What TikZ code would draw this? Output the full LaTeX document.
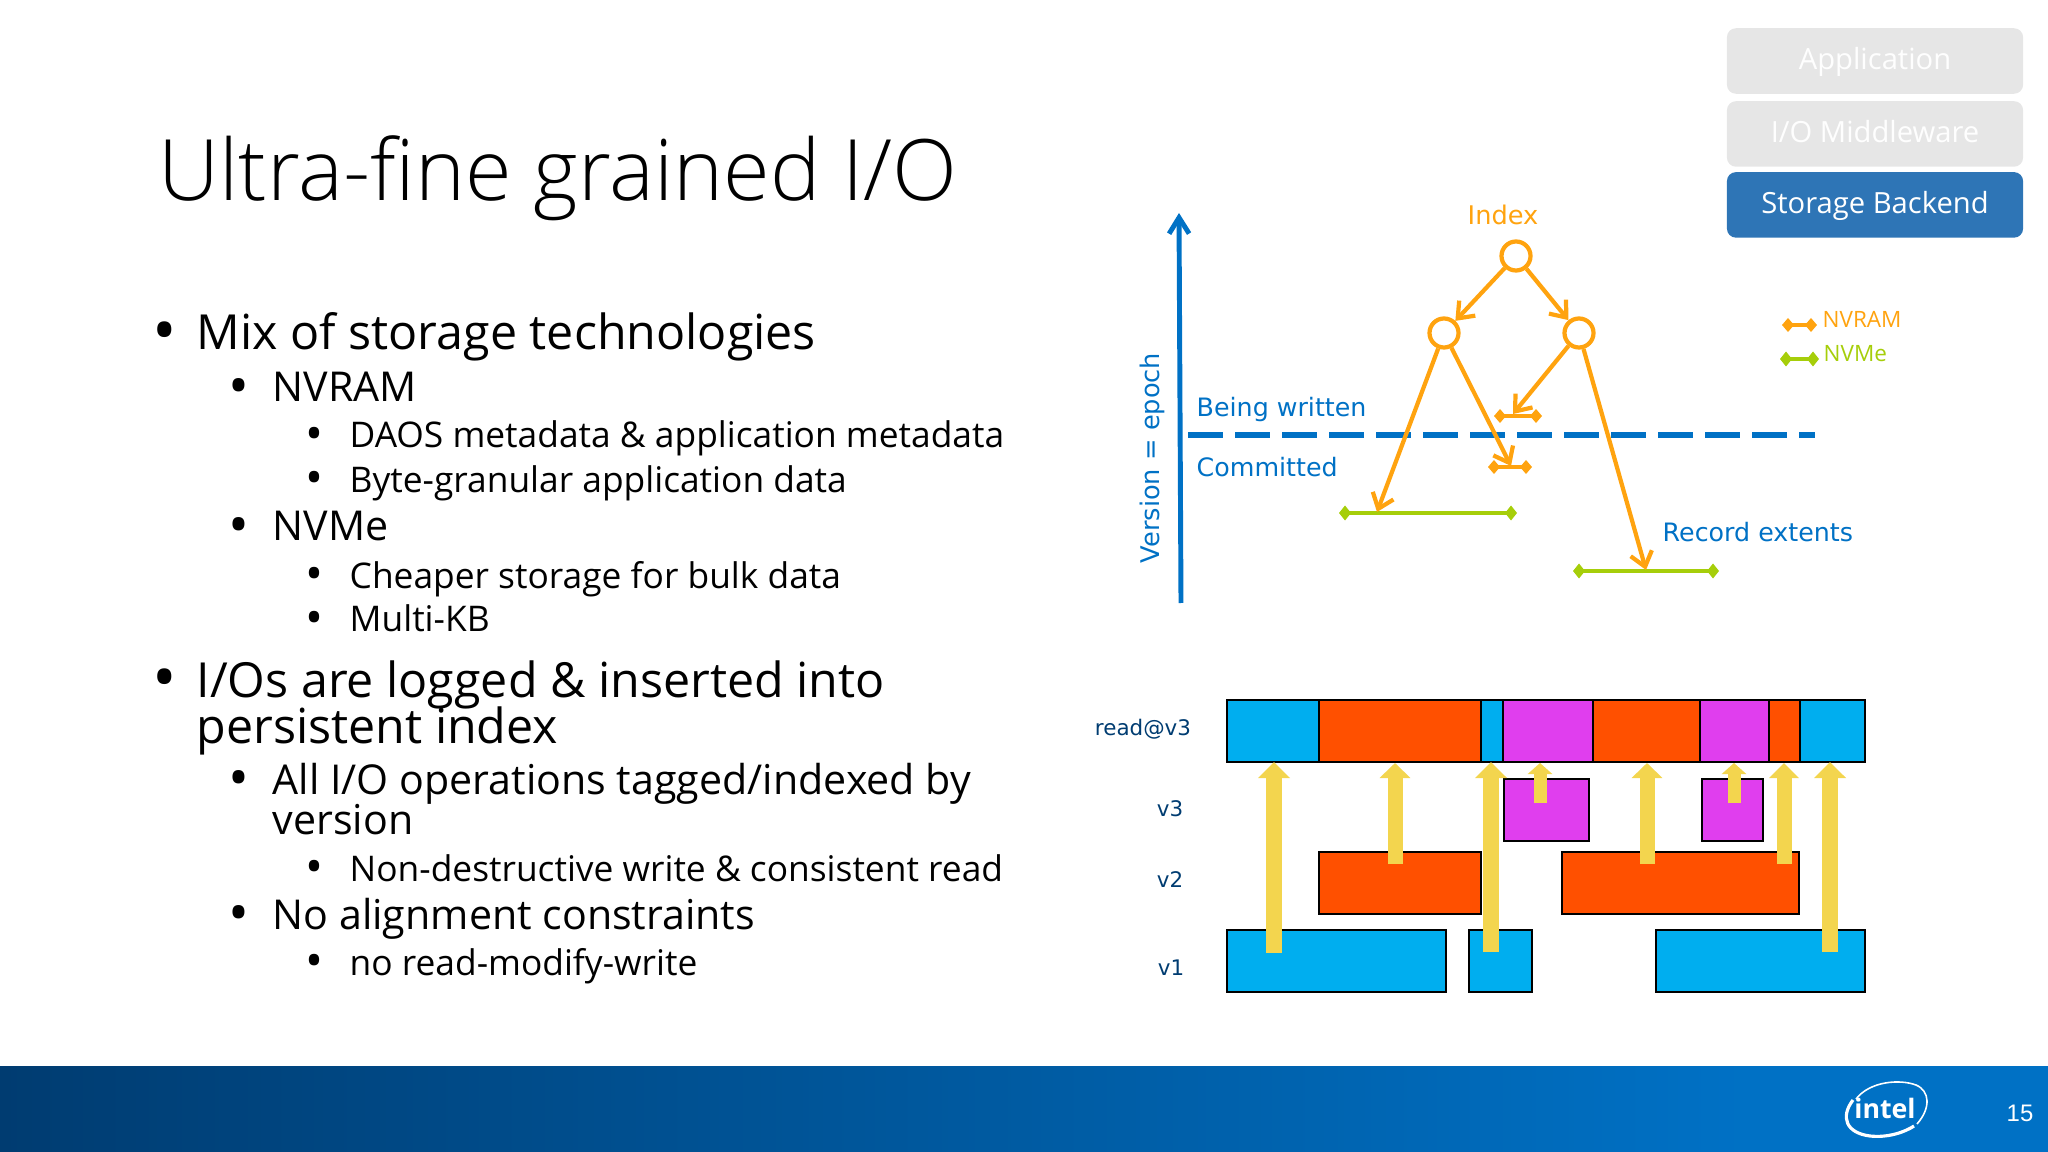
\documentclass[tikz,border=0pt]{standalone}
\usepackage{fontspec}
\usetikzlibrary{arrows.meta,positioning}
\setmainfont{Open Sans}
\newfontfamily\lightfont{Open Sans Light}
\newfontfamily\diagfont{DejaVu Sans}
\newfontfamily\pagefont{Liberation Sans}
\definecolor{indexorange}{HTML}{FFA30F}
\definecolor{nvmegreen}{HTML}{A6CE0A}
\definecolor{intelblue}{HTML}{0071C5}
\definecolor{inteldark}{HTML}{003C71}
\definecolor{stackblue}{HTML}{2E75B6}
\definecolor{stackgray}{HTML}{E6E6E6}
\definecolor{barcyan}{HTML}{00AEEF}
\definecolor{barorange}{HTML}{FF5000}
\definecolor{barpurple}{HTML}{E03EEE}
\definecolor{overlayyellow}{HTML}{F3D54E}
\newcommand{\bigbullet}{\raisebox{-0.08em}{\scalebox{1.35}{\textbullet}}}
\tikzset{
  lvlone/.style={anchor=base west,inner sep=0pt,font=\fontsize{13.75}{16}\selectfont,execute at begin node={\llap{\bigbullet\hspace{0.2cm}}}},
  lvltwo/.style={anchor=base west,inner sep=0pt,font=\fontsize{11.7}{14}\selectfont,execute at begin node={\llap{\bigbullet\hspace{0.23cm}}}},
  lvlthree/.style={anchor=base west,inner sep=0pt,font=\fontsize{10.05}{12}\selectfont,execute at begin node={\llap{\bigbullet\hspace{0.26cm}}}},
  wrapone/.style={anchor=base west,inner sep=0pt,font=\fontsize{13.75}{16}\selectfont},
  wraptwo/.style={anchor=base west,inner sep=0pt,font=\fontsize{11.7}{14}\selectfont},
  stackbox/.style={rounded corners=0.09cm,minimum width=2.96cm,minimum height=0.655cm,inner sep=0pt,text height=5pt,text depth=0pt,font=\fontsize{8.3}{10}\selectfont},
  treenode/.style={circle,draw=indexorange,line width=1.2pt,minimum size=0.29cm,inner sep=0pt,fill=white},
  treeedge/.style={indexorange,line width=1.2pt,-{Straight Barb[length=0.14cm,width=0.22cm]}},
  nvramline/.style={indexorange,line width=1.4pt,{Diamond[length=0.12cm,width=0.14cm]}-{Diamond[length=0.12cm,width=0.14cm]}},
  nvmeline/.style={nvmegreen,line width=1.4pt,{Diamond[length=0.12cm,width=0.15cm]}-{Diamond[length=0.12cm,width=0.15cm]}},
  diaglabel/.style={intelblue,inner sep=0pt,font=\diagfont\fontsize{7.2}{9}\selectfont},
  rowlabel/.style={inteldark,inner sep=0pt,font=\diagfont\fontsize{6.1}{8}\selectfont},
  legendlabel/.style={anchor=west,inner sep=0pt,font=\fontsize{6.4}{8}\selectfont},
  bar/.style={draw=black,line width=0.4pt,inner sep=0pt,outer sep=0pt,minimum height=0.62cm}
}
\begin{document}
\begin{tikzpicture}[x=0.01cm,y=-0.01cm]
  \useasboundingbox (0,0) rectangle (2048,1152);
  \shade[left color=inteldark,right color=intelblue] (0,1066) rectangle (1750,1152);
  \fill[intelblue] (1749,1066) rectangle (2048,1152);

  \node[anchor=base west,inner sep=0pt,font=\lightfont\fontsize{24.1}{28}\selectfont] (title) at (158,201) {Ultra-fine grained I/O};

  \node[lvlone] (mix) at (196,350) {Mix of storage technologies};
  \node[lvltwo] (nvram) at (272,402) {NVRAM};
  \node[lvlthree] (daos) at (349,448) {DAOS metadata \& application metadata};
  \node[lvlthree] (bytes) at (349,492) {Byte-granular application data};
  \node[lvltwo] (nvme) at (272,541) {NVMe};
  \node[lvlthree] (cheap) at (349,588) {Cheaper storage for bulk data};
  \node[lvlthree] (multi) at (349,632) {Multi-KB};
  \node[lvlone] (ios) at (196,697) {I/Os are logged \& inserted into};
  \node[wrapone] (persist) at (196,743) {persistent index};
  \node[lvltwo] (tagged) at (272,794) {All I/O operations tagged/indexed by};
  \node[wraptwo] (version) at (272,834) {version};
  \node[lvlthree] (nondes) at (349,881) {Non-destructive write \& consistent read};
  \node[lvltwo] (align) at (272,929) {No alignment constraints};
  \node[lvlthree] (rmw) at (349,975) {no read-modify-write};

  \node[stackbox,fill=stackgray,text=white!96!stackgray] (app) at (1875,61) {Application};
  \node[stackbox,fill=stackgray,text=white!96!stackgray,below=0.06cm of app] (middle) {I/O Middleware};
  \node[stackbox,fill=stackblue,text=white,below=0.04cm of middle] (backend) {Storage Backend};

  \coordinate (axisbot) at (1181,603);
  \coordinate (axistop) at (1179,213);
  \draw[intelblue,line width=1.4pt,-{Straight Barb[length=0.16cm,width=0.2cm]}] (axisbot) -- (axistop);
  \node[diaglabel,rotate=90,font=\diagfont\fontsize{7.3}{9}\selectfont] (epoch) at (1152,458) {Version = epoch};

  \coordinate (dasha) at (1188,435);
  \coordinate (dashb) at (1815,435);
  \draw[intelblue,line width=1.5pt,dash pattern=on 0.35cm off 0.12cm] (dasha) -- (dashb);
  \node[diaglabel,anchor=west] (written) at (1196,410) {Being written};
  \node[diaglabel,anchor=west] (committed) at (1196,467) {Committed};
  \node[diaglabel,anchor=west] (extents) at (1662,532) {Record extents};
  \node[inner sep=0pt,text=indexorange,font=\diagfont\fontsize{7.3}{9}\selectfont] (index) at (1503,215) {Index};

  \node[treenode] (root) at (1516,256) {};
  \node[treenode] (left) at (1444,333) {};
  \node[treenode] (right) at (1579,333) {};

  \foreach \name/\xa/\xb/\yy/\kind in {upa/1494/1542/416/nvramline,upb/1488/1532/467/nvramline,loa/1339/1517/513/nvmeline,lob/1573/1719/571/nvmeline} {
    \coordinate (\name w) at (\xa,\yy);
    \coordinate (\name e) at (\xb,\yy);
    \draw[\kind] (\name w) -- (\name e);
  }

  \coordinate (tipa) at (1513,414);
  \coordinate (tipb) at (1511,466);
  \coordinate (tipc) at (1377,512);
  \coordinate (tipd) at (1646,570);
  \draw[treeedge] (root) -- (left);
  \draw[treeedge] (root) -- (right);
  \draw[treeedge] (right) -- (tipa);
  \draw[treeedge] (left) -- (tipb);
  \draw[treeedge] (left) -- (tipc);
  \draw[treeedge] (right) -- (tipd);

  \coordinate (keya) at (1782,325);
  \coordinate (keyb) at (1817,325);
  \coordinate (keyc) at (1780,359);
  \coordinate (keyd) at (1819,359);
  \draw[nvramline] (keya) -- (keyb);
  \draw[nvmeline] (keyc) -- (keyd);
  \node[legendlabel,text=indexorange] (keyram) at (1822,319) {NVRAM};
  \node[legendlabel,text=nvmegreen] (keynvme) at (1823,354) {NVMe};

  \foreach \name/\xa/\xb/\yy/\col in {ra/1227/1319/731/barcyan,rb/1319/1481/731/barorange,rc/1481/1503/731/barcyan,rd/1503/1593/731/barpurple,re/1593/1700/731/barorange,rf/1700/1769/731/barpurple,rg/1769/1800/731/barorange,rh/1800/1865/731/barcyan,tha/1504/1589/810/barpurple,thb/1702/1763/810/barpurple,twa/1319/1481/883/barorange,twb/1562/1799/883/barorange,ona/1227/1446/961/barcyan,onb/1469/1532/961/barcyan,onc/1656/1865/961/barcyan} {
    \pgfmathsetmacro\barw{(\xb-\xa)*0.01}
    \node[bar,fill=\col,minimum width=\barw cm] (\name) at ({(\xa+\xb)/2},\yy) {};
  }

  \foreach \i/\xx/\yy/\tail/\shaft/\head/\hlen in {1/1274/762/953/16/31/16,2/1395/763/864/15/30/15,3/1491/762/952/16/31/16,4/1540/763/803/13/24/11,5/1647/763/864/15/30/15,6/1734/763/803/13/24/11,7/1784/763/864/15/29/15,8/1830/762/952/16/31/16} {
    \pgfmathsetmacro\sw{\shaft*0.01}
    \pgfmathsetmacro\hw{\head*0.01}
    \pgfmathsetmacro\hl{\hlen*0.01}
    \coordinate (from\i) at (\xx,\tail);
    \coordinate (to\i) at (\xx,\yy);
    \draw[overlayyellow,line width=\sw cm,-{Triangle[width=\hw cm,length=\hl cm]}] (from\i) -- (to\i);
  }

  \node[rowlabel] (readlab) at (1143,729) {read@v3};
  \node[rowlabel] (vthree) at (1170,809) {v3};
  \node[rowlabel] (vtwo) at (1170,880) {v2};
  \node[rowlabel] (vone) at (1171,968) {v1};

  \draw[white,line width=0.45pt] (1856,1099) .. controls (1870,1081) and (1900,1079) .. (1916,1085) .. controls (1930,1091) and (1931,1108) .. (1917,1124);
  \draw[white,line width=0.9pt] (1853,1100) .. controls (1840,1117) and (1846,1133) .. (1870,1136) .. controls (1888,1138) and (1905,1132) .. (1914,1126);
  \node[inner sep=0pt,text=white,font=\fontsize{7.6}{9}\bfseries\selectfont] (logo) at (1885,1108) {intel};
  \node[inner sep=0pt,text=white,font=\pagefont\fontsize{6.8}{8}\selectfont] (pagenum) at (2020,1113) {15};
\end{tikzpicture}
\end{document}
